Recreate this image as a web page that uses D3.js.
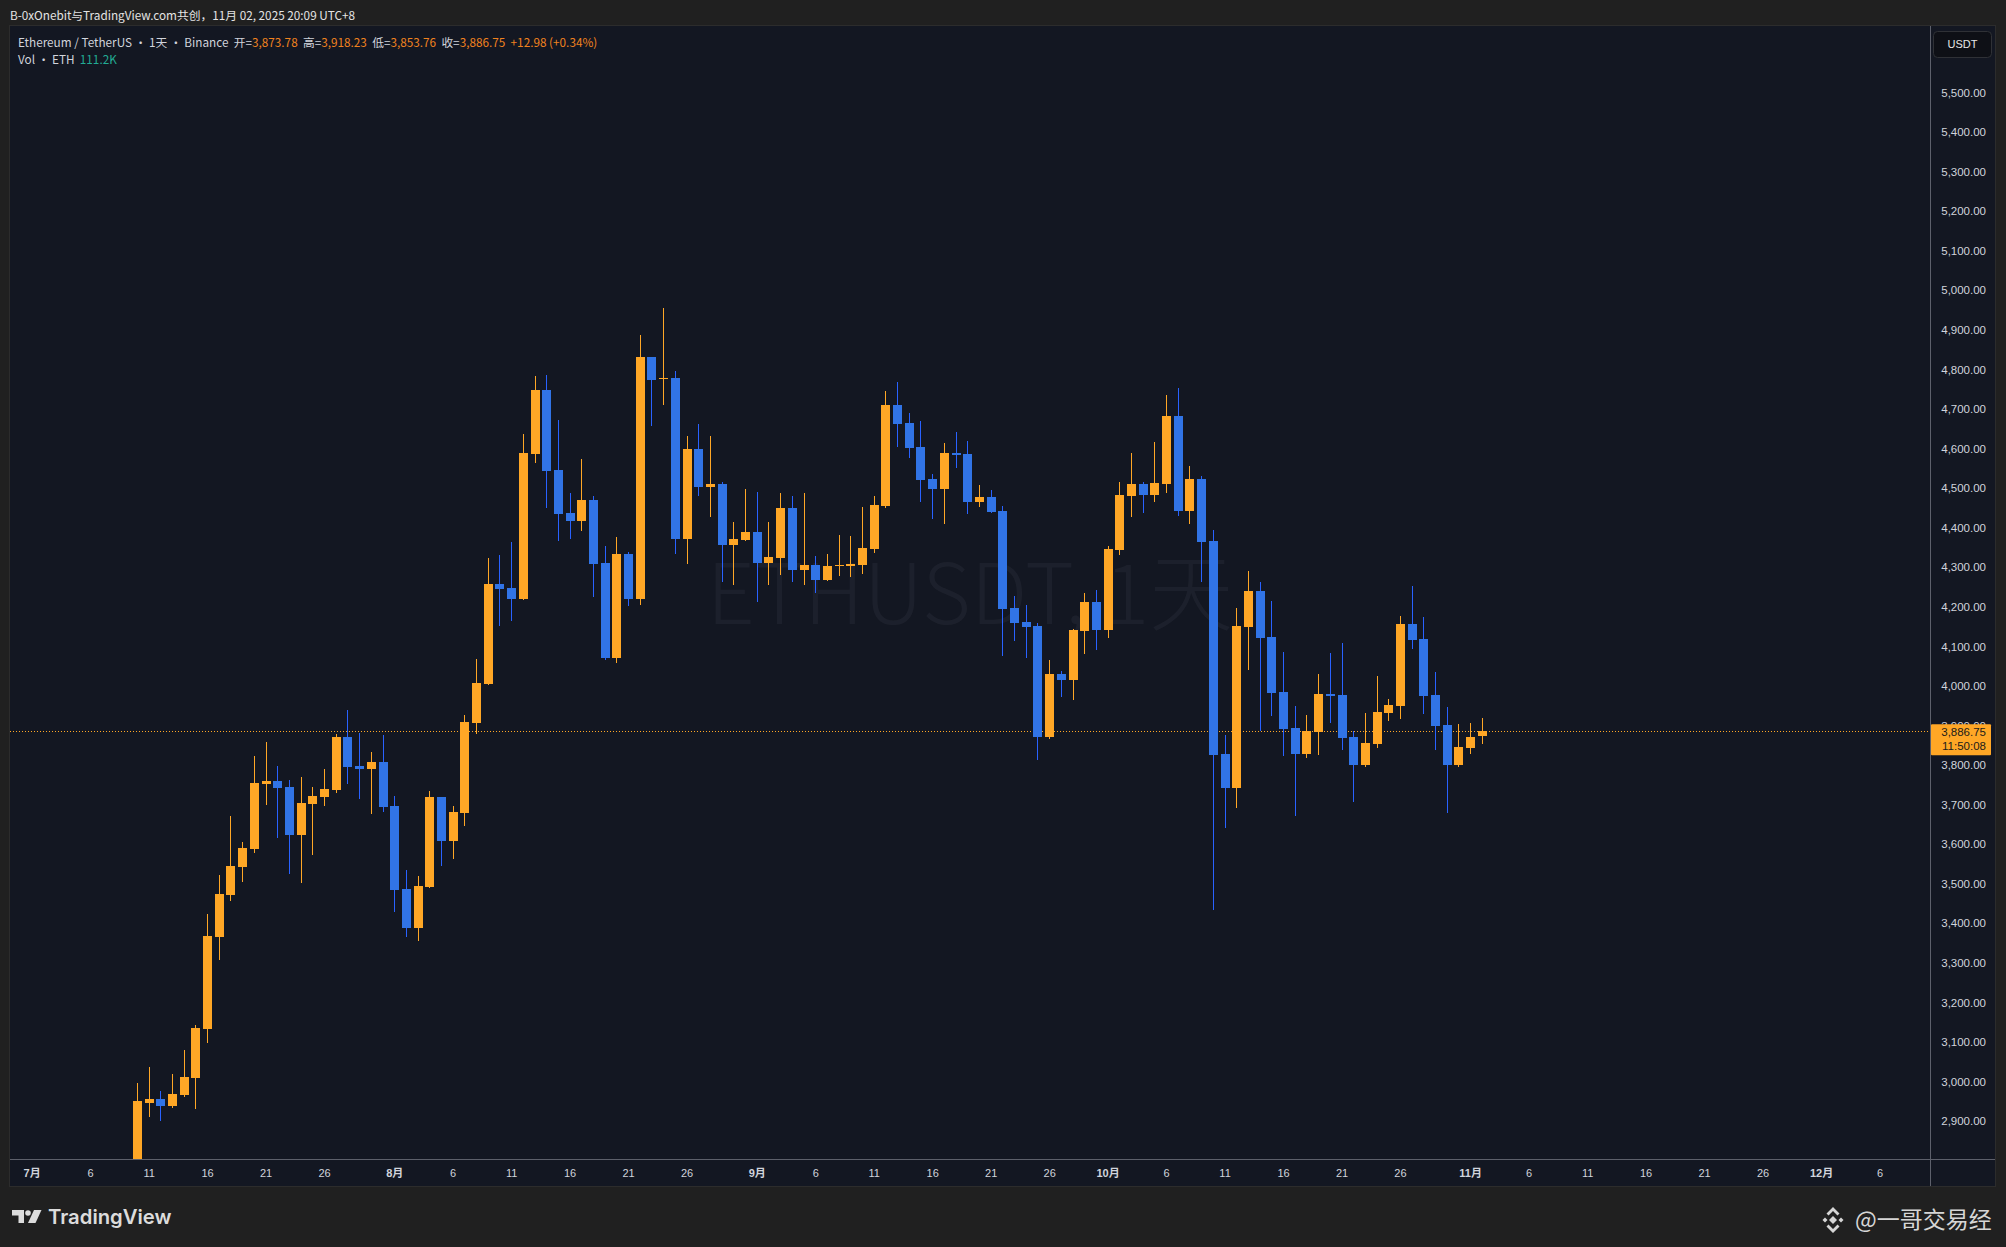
<!DOCTYPE html>
<html><head><meta charset="utf-8">
<script src="https://cdn.jsdelivr.net/npm/d3@7"></script>
<style>
html,body{margin:0;padding:0;background:#202020;overflow:hidden}
svg{display:block}
</style></head><body>
<svg id="c" width="2006" height="1247"></svg>
<script>
// ---------- DATA ----------
const dates = [
"2025-07-10","2025-07-11","2025-07-12","2025-07-13","2025-07-14","2025-07-15","2025-07-16","2025-07-17","2025-07-18","2025-07-19","2025-07-20","2025-07-21","2025-07-22","2025-07-23","2025-07-24","2025-07-25","2025-07-26","2025-07-27","2025-07-28","2025-07-29","2025-07-30","2025-07-31",
"2025-08-01","2025-08-02","2025-08-03","2025-08-04","2025-08-05","2025-08-06","2025-08-07","2025-08-08","2025-08-09","2025-08-10","2025-08-11","2025-08-12","2025-08-13","2025-08-14","2025-08-15","2025-08-16","2025-08-17","2025-08-18","2025-08-19","2025-08-20","2025-08-21","2025-08-22","2025-08-23","2025-08-24","2025-08-25","2025-08-26","2025-08-27","2025-08-28","2025-08-29","2025-08-30","2025-08-31",
"2025-09-01","2025-09-02","2025-09-03","2025-09-04","2025-09-05","2025-09-06","2025-09-07","2025-09-08","2025-09-09","2025-09-10","2025-09-11","2025-09-12","2025-09-13","2025-09-14","2025-09-15","2025-09-16","2025-09-17","2025-09-18","2025-09-19","2025-09-20","2025-09-21","2025-09-22","2025-09-23","2025-09-24","2025-09-25","2025-09-26","2025-09-27","2025-09-28","2025-09-29","2025-09-30",
"2025-10-01","2025-10-02","2025-10-03","2025-10-04","2025-10-05","2025-10-06","2025-10-07","2025-10-08","2025-10-09","2025-10-10","2025-10-11","2025-10-12","2025-10-13","2025-10-14","2025-10-15","2025-10-16","2025-10-17","2025-10-18","2025-10-19","2025-10-20","2025-10-21","2025-10-22","2025-10-23","2025-10-24","2025-10-25","2025-10-26","2025-10-27","2025-10-28","2025-10-29","2025-10-30","2025-10-31",
"2025-11-01","2025-11-02"];
const opens = [
2771,2946,2956,2939,2966,3010,3133,3365,3472,3542,3588,3753,3760,3744,3623,3702,3719,3737,3871,3797,3790,3807,
3696,3487,3387,3491,3719,3608,3678,3906,4005,4257,4248,4220,4586,4748,4546,4437,4417,4470,4311,4071,4333,4220,4831,4775,4778,4371,4599,4503,4510,4356,4369,
4389,4311,4323,4450,4293,4306,4268,4303,4303,4306,4346,4455,4710,4664,4604,4523,4498,4589,4586,4465,4478,4442,4197,4161,4151,3871,4030,4015,4139,4212,
4141,4344,4480,4510,4483,4510,4682,4442,4523,4366,3828,3742,4149,4240,4124,3985,3894,3828,3883,3980,3977,3871,3800,3853,3931,3949,4156,4119,3977,3901,3800,
3843,3873.78];
const highs = [
2996,3037,2976,3019,3080,3143,3423,3522,3671,3605,3823,3858,3798,3762,3770,3744,3790,3878,3939,3882,3833,3876,
3721,3534,3519,3734,3720,3696,3926,4068,4323,4331,4364,4637,4783,4786,4672,4488,4574,4480,4354,4376,4338,4887,4832,4955,4796,4632,4662,4632,4515,4414,4498,
4490,4414,4488,4480,4488,4328,4333,4381,4379,4452,4480,4746,4768,4690,4670,4536,4614,4642,4619,4508,4495,4455,4227,4204,4159,4065,4038,4144,4235,4242,
4354,4515,4589,4515,4617,4735,4753,4556,4531,4393,3876,4197,4290,4263,4215,4086,3949,3926,4030,4083,4108,3886,3931,4025,3967,4177,4252,4174,4035,3947,3904,
3906,3918.23];
const lows = [
2735,2911,2901,2934,2962,2931,3098,3307,3456,3504,3578,3699,3616,3525,3502,3573,3696,3729,3752,3714,3676,3681,
3429,3365,3354,3489,3546,3562,3646,3878,4002,4151,4164,4217,4564,4451,4366,4371,4392,4225,4065,4058,4202,4204,4657,4710,4333,4308,4480,4427,4263,4256,4366,
4212,4256,4281,4263,4256,4236,4266,4278,4276,4283,4337,4450,4604,4576,4465,4422,4409,4551,4434,4452,4438,4076,4113,4071,3813,3866,3972,3964,4081,4091,
4121,4331,4427,4437,4465,4488,4430,4409,4263,3434,3641,3691,4040,3886,3924,3823,3671,3818,3825,3906,3838,3706,3795,3843,3911,3916,4093,3929,3838,3679,3795,
3828,3853.76];
const closes = [
2950,2956,2939,2968,3011,3135,3368,3474,3545,3590,3755,3760,3742,3623,3704,3722,3739,3871,3795,3790,3807,3694,
3484,3387,3494,3719,3608,3681,3908,4007,4257,4245,4220,4589,4748,4543,4434,4417,4470,4308,4071,4333,4220,4831,4773,4778,4371,4599,4503,4510,4356,4371,4389,
4311,4326,4450,4293,4306,4268,4303,4306,4308,4349,4457,4710,4662,4601,4520,4498,4589,4584,4465,4478,4440,4194,4159,4149,3871,4030,4015,4141,4212,4141,
4346,4483,4510,4483,4513,4682,4442,4523,4364,3825,3742,4151,4240,4121,3982,3891,3828,3886,3980,3974,3868,3800,3856,3934,3952,4156,4116,3974,3899,3800,3846,
3871,3886.75];

const priceTicks = [2900,3000,3100,3200,3300,3400,3500,3600,3700,3800,3900,4000,4100,4200,4300,4400,4500,4600,4700,4800,4900,5000,5100,5200,5300,5400,5500];
const timeTickDates = [
"2025-07-01","2025-07-06","2025-07-11","2025-07-16","2025-07-21","2025-07-26",
"2025-08-01","2025-08-06","2025-08-11","2025-08-16","2025-08-21","2025-08-26",
"2025-09-01","2025-09-06","2025-09-11","2025-09-16","2025-09-21","2025-09-26",
"2025-10-01","2025-10-06","2025-10-11","2025-10-16","2025-10-21","2025-10-26",
"2025-11-01","2025-11-06","2025-11-11","2025-11-16","2025-11-21","2025-11-26",
"2025-12-01","2025-12-06"];
const timeTickLabels = [
"7月","6","11","16","21","26",
"8月","6","11","16","21","26",
"9月","6","11","16","21","26",
"10月","6","11","16","21","26",
"11月","6","11","16","21","26",
"12月","6"];
const lastPrice = 3886.75;
const countdown = "11:50:08";

// ---------- LAYOUT ----------
const W = 2006, H = 1247;
const plot = {l:10, t:26, r:1930, b:1159};
const panel = {l:10, t:26, r:1995, b:1186};
const UP = "#ffa726", DOWN = "#3174e6", DOWN_WICK = "#2962ff";
const LATIN = "'Liberation Sans', Arial, 'Noto Sans CJK SC', sans-serif";
const CJK = "'Noto Sans CJK SC', 'Noto Sans', sans-serif";

const parse = d3.utcParse("%Y-%m-%d");
const x = d3.scaleUtc()
  .domain([parse("2025-07-01"), parse("2025-12-06")])
  .range([31.65, 1879.5]);
const y = d3.scaleLinear().domain([2900, 5500]).range([1121.1, 92.5]);

const svg = d3.select("#c");
svg.append("rect").attr("width", W).attr("height", H).attr("fill", "#202020");

// title
svg.append("text").attr("x", 10).attr("y", 19.5)
  .attr("font-family", CJK).attr("font-size", 11.75).attr("fill", "#e4e4e4")
  .text("B-0xOnebit与TradingView.com共创，11月 02, 2025 20:09 UTC+8");

// panel
svg.append("rect").attr("x", panel.l - 0.5).attr("y", panel.t - 0.5)
  .attr("width", panel.r - panel.l + 1).attr("height", panel.b - panel.t + 1)
  .attr("fill", "#131722").attr("stroke", "#2c2c2c");

// watermark
svg.append("text").attr("x", (plot.l + plot.r) / 2).attr("y", 587)
  .attr("text-anchor", "middle").attr("dominant-baseline", "central")
  .attr("font-family", CJK).attr("font-size", 84).attr("font-weight", 300)
  .attr("fill", "rgba(200,205,220,0.055)")
  .text("ETHUSDT, 1天");

// clip
svg.append("clipPath").attr("id", "clip").append("rect")
  .attr("x", plot.l).attr("y", plot.t).attr("width", plot.r - plot.l).attr("height", plot.b - plot.t);

const data = dates.map((d, i) => ({date: parse(d), o: opens[i], h: highs[i], l: lows[i], c: closes[i]}));
const g = svg.append("g").attr("clip-path", "url(#clip)").attr("shape-rendering", "crispEdges");

// price line
g.append("line").attr("x1", plot.l).attr("x2", plot.r)
  .attr("y1", Math.round(y(lastPrice)) + 0.5).attr("y2", Math.round(y(lastPrice)) + 0.5)
  .attr("stroke", UP).attr("stroke-width", 1).attr("stroke-dasharray", "1,2");

const cg = g.selectAll("g.candle").data(data).join("g").attr("class", "candle");
cg.append("rect")
  .attr("x", d => Math.round(x(d.date)))
  .attr("width", 1)
  .attr("y", d => Math.round(y(d.h)))
  .attr("height", d => Math.max(1, Math.round(y(d.l)) - Math.round(y(d.h))))
  .attr("fill", d => d.c >= d.o ? UP : DOWN_WICK);
cg.append("rect")
  .attr("x", d => Math.round(x(d.date)) - 4)
  .attr("width", 9)
  .attr("y", d => Math.round(y(Math.max(d.o, d.c))))
  .attr("height", d => Math.max(1, Math.round(y(Math.min(d.o, d.c))) - Math.round(y(Math.max(d.o, d.c)))))
  .attr("fill", d => d.c >= d.o ? UP : DOWN);

// axes lines
svg.append("line").attr("x1", plot.r + 0.5).attr("x2", plot.r + 0.5).attr("y1", panel.t).attr("y2", panel.b)
  .attr("stroke", "#5d606b");
svg.append("line").attr("x1", panel.l).attr("x2", panel.r).attr("y1", plot.b + 0.5).attr("y2", plot.b + 0.5)
  .attr("stroke", "#5d606b");

// price axis
const ya = svg.append("g").attr("transform", `translate(${plot.r},0)`)
  .call(d3.axisRight(y).tickValues(priceTicks).tickFormat(d3.format(",.2f")).tickSize(0));
ya.select(".domain").remove();
ya.selectAll("text").attr("x", 56).attr("text-anchor", "end")
  .attr("font-family", LATIN).attr("font-size", 11.5).attr("fill", "#d1d4dc");

// time axis
const xa = svg.append("g").attr("transform", `translate(0,${plot.b})`)
  .call(d3.axisBottom(x).tickValues(timeTickDates.map(parse)).tickFormat((d, i) => timeTickLabels[i]).tickSize(0));
xa.select(".domain").remove();
xa.selectAll("text").attr("y", 14).attr("dy", "0.35em")
  .attr("font-family", LATIN).attr("font-size", 11).attr("fill", "#d1d4dc")
  .attr("font-weight", (d, i) => timeTickLabels[i].includes("月") ? "bold" : "normal");

// USDT button
svg.append("rect").attr("x", 1933.5).attr("y", 31.5).attr("width", 58).attr("height", 26).attr("rx", 4)
  .attr("fill", "#0e1016").attr("stroke", "#2f3136");
svg.append("text").attr("x", 1962.5).attr("y", 44.5).attr("dy", "0.35em").attr("text-anchor", "middle")
  .attr("font-family", LATIN).attr("font-size", 11).attr("fill", "#e8e8e8").text("USDT");

// last price label
const ly = y(lastPrice);
svg.append("rect").attr("x", 1931).attr("y", ly - 6.5).attr("width", 60).attr("height", 31).attr("rx", 1)
  .attr("fill", UP);
svg.append("text").attr("x", 1986).attr("y", ly + 1).attr("dy", "0.35em").attr("text-anchor", "end")
  .attr("font-family", LATIN).attr("font-size", 11.5).attr("fill", "#1b1b1b").text(d3.format(",.2f")(lastPrice));
svg.append("text").attr("x", 1986).attr("y", ly + 15).attr("dy", "0.35em").attr("text-anchor", "end")
  .attr("font-family", LATIN).attr("font-size", 11.5).attr("fill", "#1b1b1b").text(countdown);

// legend
const VAL = "#f0821f", LBL = "#d1d4dc";
const leg = svg.append("text").attr("x", 18).attr("y", 47).attr("font-family", CJK).attr("font-size", 11.75).attr("fill", LBL);
const last = data[data.length - 1];
const parts = [
  ["Ethereum / TetherUS · 1天 · Binance  ", LBL],
  ["开=", LBL], [d3.format(",.2f")(last.o) + "  ", VAL],
  ["高=", LBL], [d3.format(",.2f")(last.h) + "  ", VAL],
  ["低=", LBL], [d3.format(",.2f")(last.l) + "  ", VAL],
  ["收=", LBL], [d3.format(",.2f")(last.c) + "  ", VAL],
  ["+12.98 (+0.34%)", VAL]
];
leg.attr("xml:space", "preserve");
parts.forEach(p => leg.append("tspan").attr("fill", p[1]).text(p[0]));
const vol = svg.append("text").attr("x", 18).attr("y", 64).attr("font-family", CJK).attr("font-size", 11.75).attr("fill", LBL).attr("xml:space", "preserve");
vol.append("tspan").text("Vol · ETH  ");
vol.append("tspan").attr("fill", "#22ab94").text("111.2K");

// TradingView logo
const lg = svg.append("g").attr("fill", "#dcdcdc");
lg.append("path").attr("d", "M12,1210 h12 v13 h-5.5 v-7.5 h-6.5 z");
lg.append("circle").attr("cx", 28).attr("cy", 1213).attr("r", 2.8);
lg.append("path").attr("d", "M34,1210 h7.5 l-6,13 h-7.5 z");
svg.append("text").attr("x", 48).attr("y", 1224).attr("font-family", "Inter, 'Noto Sans', sans-serif")
  .attr("font-size", 20.3).attr("font-weight", 600).attr("fill", "#dcdcdc").text("TradingView");

// Binance mark + author
const bx = 1833, by = 1220;
const bg = svg.append("g").attr("fill", "#d6d6d6").attr("transform", `translate(${bx},${by})`);
bg.append("path").attr("d", "M0,-4 L4,0 L0,4 L-4,0 Z");
bg.append("path").attr("d", "M-8,-2.5 L-5.5,0 L-8,2.5 L-10.5,0 Z");
bg.append("path").attr("d", "M8,-2.5 L10.5,0 L8,2.5 L5.5,0 Z");
bg.append("path").attr("d", "M0,-13 L6.5,-6.5 L4.5,-4.5 L0,-9 L-4.5,-4.5 L-6.5,-6.5 Z");
bg.append("path").attr("d", "M0,13 L6.5,6.5 L4.5,4.5 L0,9 L-4.5,4.5 L-6.5,6.5 Z");
svg.append("text").attr("x", 1855).attr("y", 1228).attr("font-family", CJK)
  .attr("font-size", 23).attr("fill", "#d6d6d6").text("@一哥交易经");
</script>
</body></html>
